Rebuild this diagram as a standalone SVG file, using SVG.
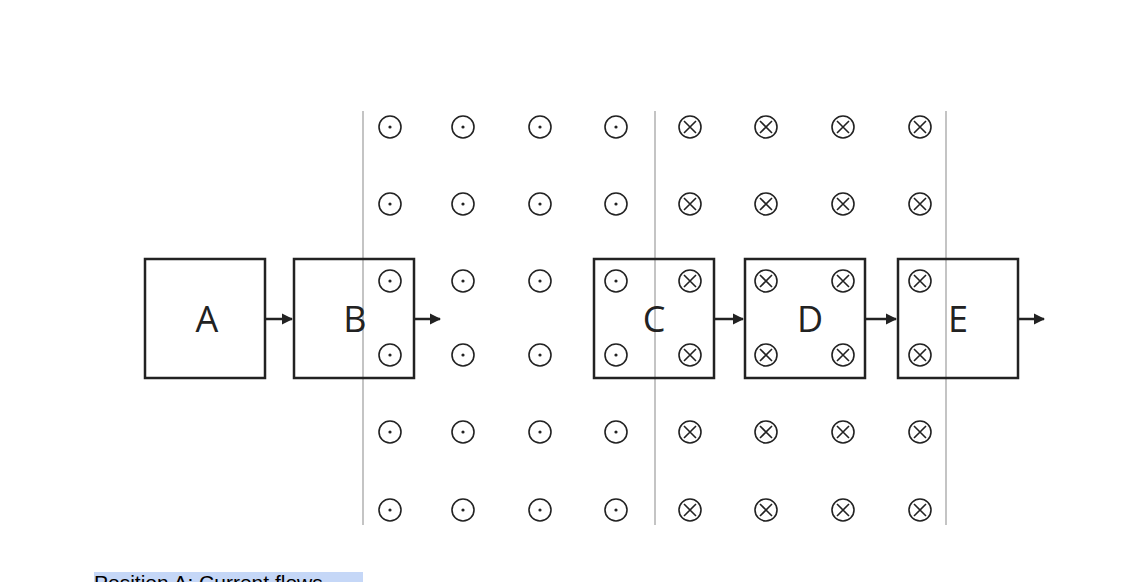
<svg xmlns="http://www.w3.org/2000/svg" width="1130" height="582" viewBox="0 0 1130 582">
<style>
.b{fill:none;stroke:#222;stroke-width:2.5}
.g{stroke:#c4c4c4;stroke-width:2}
.c{fill:none;stroke:#222;stroke-width:1.6}
.t{font-family:"Open Sans",sans-serif;font-size:36px;fill:#222;text-anchor:middle}
.a{stroke:#222;stroke-width:2.5;marker-end:url(#ar)}
</style>
<defs>
<marker id="ar" viewBox="0 0 10 10" refX="9" refY="5" markerWidth="4.5" markerHeight="4.5" orient="auto"><path d="M0,0L10,5L0,10z" fill="#222"/></marker>
<g id="dot"><circle r="11" class="c"/><circle r="1.6" fill="#222"/></g>
<g id="x"><circle r="11" class="c"/><path d="M-6,-6L6,6M6,-6L-6,6" class="c"/></g>
</defs>
<g id="lines">
<line x1="363" y1="111" x2="363" y2="525" class="g"/>
<line x1="655" y1="111" x2="655" y2="525" class="g"/>
<line x1="946" y1="111" x2="946" y2="525" class="g"/>
</g>
<g id="field">
<use href="#dot" x="390" y="127"/><use href="#dot" x="463" y="127"/><use href="#dot" x="540" y="127"/><use href="#dot" x="616" y="127"/>
<use href="#x" x="690" y="127"/><use href="#x" x="766" y="127"/><use href="#x" x="843" y="127"/><use href="#x" x="920" y="127"/>
<use href="#dot" x="390" y="204"/><use href="#dot" x="463" y="204"/><use href="#dot" x="540" y="204"/><use href="#dot" x="616" y="204"/>
<use href="#x" x="690" y="204"/><use href="#x" x="766" y="204"/><use href="#x" x="843" y="204"/><use href="#x" x="920" y="204"/>
<use href="#dot" x="390" y="281"/><use href="#dot" x="463" y="281"/><use href="#dot" x="540" y="281"/><use href="#dot" x="616" y="281"/>
<use href="#x" x="690" y="281"/><use href="#x" x="766" y="281"/><use href="#x" x="843" y="281"/><use href="#x" x="920" y="281"/>
<use href="#dot" x="390" y="355"/><use href="#dot" x="463" y="355"/><use href="#dot" x="540" y="355"/><use href="#dot" x="616" y="355"/>
<use href="#x" x="690" y="355"/><use href="#x" x="766" y="355"/><use href="#x" x="843" y="355"/><use href="#x" x="920" y="355"/>
<use href="#dot" x="390" y="432"/><use href="#dot" x="463" y="432"/><use href="#dot" x="540" y="432"/><use href="#dot" x="616" y="432"/>
<use href="#x" x="690" y="432"/><use href="#x" x="766" y="432"/><use href="#x" x="843" y="432"/><use href="#x" x="920" y="432"/>
<use href="#dot" x="390" y="510"/><use href="#dot" x="463" y="510"/><use href="#dot" x="540" y="510"/><use href="#dot" x="616" y="510"/>
<use href="#x" x="690" y="510"/><use href="#x" x="766" y="510"/><use href="#x" x="843" y="510"/><use href="#x" x="920" y="510"/>
</g>
<g id="A"><rect x="145" y="259" width="120" height="119" class="b"/><text x="207" y="332" class="t">A</text></g>
<g id="B"><rect x="294" y="259" width="120" height="119" class="b"/><text x="355" y="332" class="t">B</text></g>
<g id="C"><rect x="594" y="259" width="120" height="119" class="b"/><text x="654" y="332" class="t">C</text></g>
<g id="D"><rect x="745" y="259" width="120" height="119" class="b"/><text x="810" y="332" class="t">D</text></g>
<g id="E"><rect x="898" y="259" width="120" height="119" class="b"/><text x="958" y="332" class="t">E</text></g>
<g id="connectors">
<line x1="265" y1="319" x2="292" y2="319" class="a"/>
<line x1="414" y1="319" x2="440" y2="319" class="a"/>
<line x1="714" y1="319" x2="743" y2="319" class="a"/>
<line x1="865" y1="319" x2="896" y2="319" class="a"/>
<line x1="1018" y1="319" x2="1044" y2="319" class="a"/>
</g>
<rect x="94" y="572" width="269" height="12" fill="#c5d7f7"/>
<text x="94" y="590" font-family="Liberation Sans,Arial,sans-serif" font-size="21" fill="#000">Position A: Current flows</text>
</svg>
